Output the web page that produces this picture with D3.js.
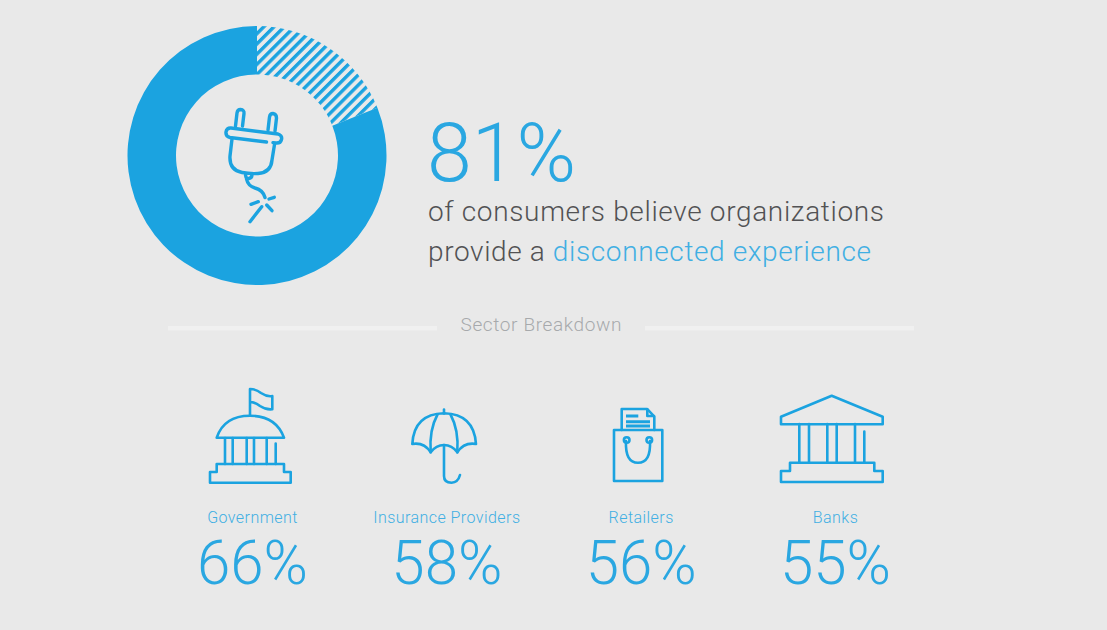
<!DOCTYPE html>
<html>
<head>
<meta charset="utf-8">
<script src="https://cdn.jsdelivr.net/npm/d3@7"></script>
<style>
  html, body { margin: 0; padding: 0; background: #e9e9e9; overflow: hidden; }
  text { font-family: Roboto, sans-serif; font-weight: 300; }
</style>
</head>
<body>
<svg id="chart" width="1107" height="630"></svg>
<script>
const shareLabels = ["agree", "rest"];
const shareValues = [81, 19];
const sectors = ["Government", "Insurance Providers", "Retailers", "Banks"];
const sectorValues = [66, 58, 56, 55];

const blue = "#1ba3e0";
const textBlue = "#2aa7e1";
const lightBlue = "#41afe3";
const grey = "#525254";
const svg = d3.select("#chart");

const defs = svg.append("defs");
defs.append("pattern")
    .attr("id", "hatch")
    .attr("width", 7.2)
    .attr("height", 7.2)
    .attr("patternUnits", "userSpaceOnUse")
    .attr("patternTransform", "translate(257,26) rotate(45)")
  .append("rect")
    .attr("width", 3.4)
    .attr("height", 7.2)
    .attr("fill", blue);

// donut, hatched part runs clockwise from 12 o'clock
const pie = d3.pie().sort(null)
    .startAngle(2 * Math.PI)
    .endAngle(0);
const arc = d3.arc().innerRadius(81).outerRadius(129.5);

svg.append("g")
    .attr("transform", "translate(257,155.5)")
  .selectAll("path")
  .data(pie(shareValues))
  .join("path")
    .attr("d", arc)
    .attr("fill", (d, i) => shareLabels[i] === "agree" ? blue : "url(#hatch)");

// icons are plain outlines, traced by hand
const icon = (width, paths) => {
  const g = svg.append("g")
      .attr("fill", "none")
      .attr("stroke", blue)
      .attr("stroke-width", width)
      .attr("stroke-linecap", "round")
      .attr("stroke-linejoin", "round");
  paths.forEach(d => g.append("path").attr("d", d));
  return g;
};

// plug
icon(3.4, [
  "M235.5,126 L237,113 Q237.5,109.5 240.5,109.5 Q244.5,110 244,113.5 L242.5,126",
  "M268,130 L269.5,117 Q270,113.5 273,113.5 Q276.5,114 276.5,118 L275,131",
  "M266.5,142 L230,137.5 Q225.5,136.5 226,132 Q226.5,127.5 231,128 L278,134 Q282.5,135.5 281.5,139.5 Q280.5,143.5 276,143 L273,142.6",
  "M232,139 L230,156 Q229,170 242,172.5 Q250,174 258,173.5 Q271,172.5 272,160 L274.5,144.5",
  "M245.5,175 Q246,179 249,178.5 Q252,178 252,174.5",
  "M246.5,179 Q248,186 255,188 Q263,190 265,197.5",
  "M251,204.3 L258.3,201.7",
  "M269,199 L274.3,197.3",
  "M266.7,205 L272,210.7",
  "M250,221.7 L261.7,206.7"
]);

// government building
icon(2.6, [
  "M250,415 L250,389 Q256,389 261,393 Q267,397 272.3,396 L272.3,409.3 Q266,410 260,406 Q255,402 250,402",
  "M216.7,437.7 Q224,415.7 250,415.7 Q276,415.7 284,437.7 Z",
  "M225,438 L225,464 M232.7,438 L232.7,464 M246.7,438 L246.7,464 M254,438 L254,464 M266.7,438 L266.7,464 M275.7,443.5 L275.7,464",
  "M216.7,464 L284,464 L284,472 L290.7,472 L290.7,482.7 L210,482.7 L210,472 L216.7,472 Z"
]);

// umbrella
icon(2.6, [
  "M444,409.5 L444,413.5",
  "M412.3,444 Q414,414 444,413.3 Q474,414 476,444 Q464,442 457.3,452.3 Q452,445 444,445 Q436,445 430.7,452.3 Q424,442 412.3,444 Z",
  "M430.7,452.3 Q429,430 437.5,414.5",
  "M457.3,452.3 Q459,430 450.5,414.5",
  "M444,445 L444,476 Q444,482.7 451.5,482.7 Q458,482.5 460,475"
]);

// shopping bag with a document
const bag = icon(2.6, [
  "M614,430 L662.3,430 L662.3,481 L614,481 Z",
  "M621.7,430 L621.7,409 L647.3,409 L654.3,416.7 L654.3,430",
  "M647.3,409.5 L647.3,416 L654,416",
  "M626,441 Q625,462.7 638,462.7 Q651,462.7 650,441"
]);
bag.append("path")
    .attr("stroke-width", 3)
    .attr("stroke-linecap", "butt")
    .attr("d", "M626,416 L638.3,416 M626,421.7 L650,421.7 M626,425.9 L650,425.9");
[[626.7, 440], [649.3, 440]].forEach(([cx, cy]) =>
  bag.append("circle").attr("cx", cx).attr("cy", cy).attr("r", 2.8));

// bank
icon(2.6, [
  "M781,416.7 L831.7,395.7 L882.7,416.7 L882.7,424.3 L781,424.3 Z",
  "M799.3,424 L799.3,462 M809,424 L809,462 M827.3,424 L827.3,462 M836.7,424 L836.7,462 M855,424 L855,462 M864.3,431.5 L864.3,462",
  "M790,462.7 L874.3,462.7 L874.3,471 L882.7,471 L882.7,482 L781,482 L781,471 L790,471 Z"
]);

// headline
svg.append("text")
    .attr("x", 427).attr("y", 181)
    .attr("font-size", 81).attr("fill", textBlue)
    .attr("textLength", 149)
    .attr("lengthAdjust", "spacingAndGlyphs")
    .text(shareValues[0] + "%");

svg.append("text")
    .attr("x", 428).attr("y", 221)
    .attr("font-size", 28).attr("fill", grey)
    .attr("textLength", 456)
    .text("of consumers believe organizations");

const line2 = svg.append("text")
    .attr("x", 428).attr("y", 261)
    .attr("font-size", 28).attr("fill", grey)
    .attr("textLength", 443);
line2.append("tspan").text("provide a ");
line2.append("tspan").attr("fill", lightBlue).text("disconnected experience");

// divider
svg.append("g")
    .attr("fill", "#f0f0f0")
  .selectAll("rect")
  .data([[168, 437], [645, 914]])
  .join("rect")
    .attr("x", d => d[0])
    .attr("y", 326)
    .attr("width", d => d[1] - d[0])
    .attr("height", 4.5);

svg.append("text")
    .attr("x", 541).attr("y", 331)
    .attr("text-anchor", "middle")
    .attr("font-size", 19).attr("fill", "#a7a9ac")
    .attr("textLength", 161)
    .text("Sector Breakdown");

// sector columns
const x = d3.scalePoint()
    .domain(sectors)
    .range([252.5, 835.5]);

const column = svg.append("g")
  .selectAll("g")
  .data(sectors)
  .join("g")
    .attr("transform", d => `translate(${x(d)},0)`);

column.append("text")
    .attr("y", 523)
    .attr("text-anchor", "middle")
    .attr("font-size", 16)
    .attr("letter-spacing", 0.45)
    .attr("fill", lightBlue)
    .text(d => d);

column.append("text")
    .attr("y", 584)
    .attr("text-anchor", "middle")
    .attr("font-size", 62)
    .attr("fill", textBlue)
    .attr("textLength", 111)
    .attr("lengthAdjust", "spacingAndGlyphs")
    .text((d, i) => sectorValues[i] + "%");
</script>
</body>
</html>
